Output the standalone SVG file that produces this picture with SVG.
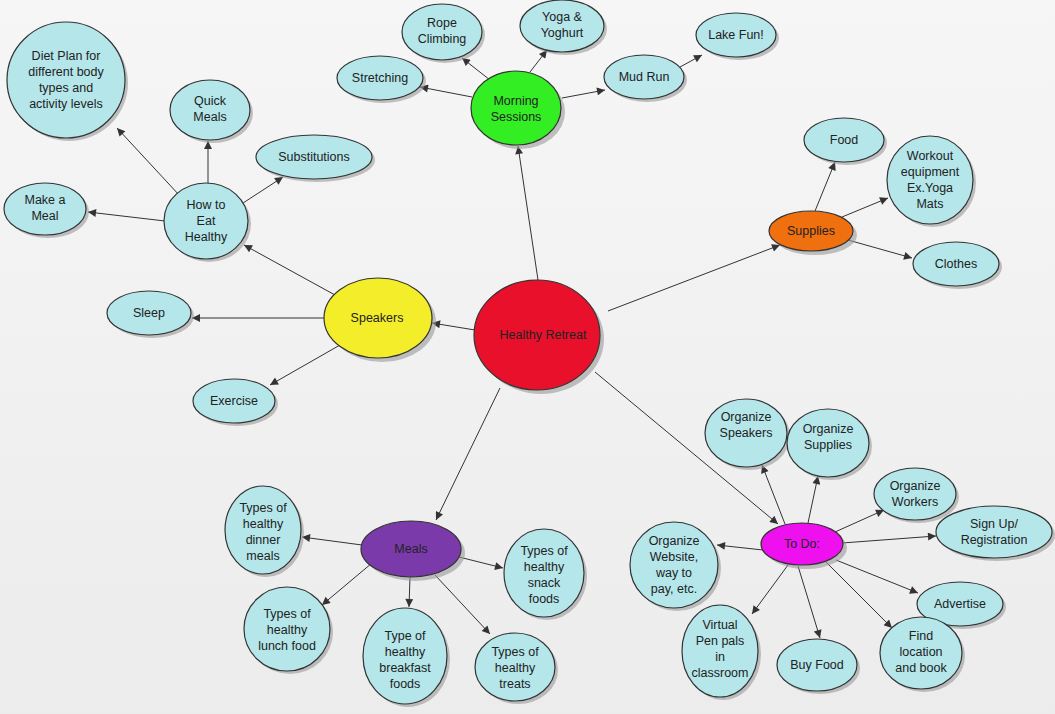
<svg xmlns="http://www.w3.org/2000/svg" width="1055" height="714" viewBox="0 0 1055 714">
<style>
text{font-family:"Liberation Sans",Arial,sans-serif;font-size:12.5px;fill:#222;text-anchor:middle}
.n ellipse.b{stroke:#333;stroke-width:1.2}
.c{fill:#b4e6ea}
.s{fill:#999;opacity:.6}
#connectors line{stroke:#333;stroke-width:1;marker-end:url(#a)}
</style>
<defs>
<marker id="a" viewBox="0 0 10 10" refX="10" refY="5" markerWidth="10" markerHeight="8" orient="auto" markerUnits="userSpaceOnUse"><path d="M0,0L10,5L0,10z" fill="#333"/></marker>
<linearGradient id="bg" x1="0" y1="0" x2="0" y2="1"><stop offset="0" stop-color="#f6f6f6"/><stop offset="1" stop-color="#ececec"/></linearGradient>
</defs>
<rect width="1055" height="714" fill="url(#bg)"/>
<g id="connectors">
<line x1="475" y1="330" x2="432" y2="323"/>
<line x1="538" y1="280" x2="518" y2="146"/>
<line x1="608" y1="311" x2="780" y2="245"/>
<line x1="500" y1="388" x2="436" y2="520"/>
<line x1="595" y1="372" x2="778" y2="524"/>
<line x1="335" y1="295" x2="244" y2="245"/>
<line x1="325" y1="318" x2="192" y2="318"/>
<line x1="340" y1="345" x2="270" y2="385"/>
<line x1="180" y1="196" x2="117" y2="128"/>
<line x1="208" y1="183" x2="208" y2="141"/>
<line x1="240" y1="205" x2="283" y2="177"/>
<line x1="165" y1="221" x2="88" y2="212"/>
<line x1="472" y1="97" x2="420" y2="87"/>
<line x1="490" y1="80" x2="462" y2="58"/>
<line x1="530" y1="72" x2="547" y2="50"/>
<line x1="562" y1="98" x2="605" y2="90"/>
<line x1="680" y1="67" x2="702" y2="55"/>
<line x1="815" y1="211" x2="835" y2="162"/>
<line x1="842" y1="217" x2="888" y2="198"/>
<line x1="848" y1="240" x2="912" y2="258"/>
<line x1="362" y1="545" x2="302" y2="537"/>
<line x1="455" y1="556" x2="503" y2="568"/>
<line x1="372" y1="563" x2="322" y2="605"/>
<line x1="410" y1="577" x2="409" y2="607"/>
<line x1="435" y1="575" x2="490" y2="634"/>
<line x1="785" y1="524" x2="762" y2="465"/>
<line x1="808" y1="523" x2="818" y2="476"/>
<line x1="835" y1="532" x2="884" y2="510"/>
<line x1="842" y1="543" x2="936" y2="536"/>
<line x1="763" y1="550" x2="717" y2="545"/>
<line x1="836" y1="560" x2="918" y2="593"/>
<line x1="788" y1="565" x2="752" y2="614"/>
<line x1="798" y1="566" x2="820" y2="638"/>
<line x1="826" y1="562" x2="892" y2="628"/>
</g>
<g id="healthy-retreat" class="n"><ellipse class="s" cx="541" cy="339" rx="63" ry="55"/><ellipse class="b" cx="537" cy="335" rx="63" ry="55" fill="#e8102a"/><text x="543" y="339">Healthy Retreat</text></g>
<g id="speakers" class="n"><ellipse class="s" cx="382" cy="322" rx="54" ry="40"/><ellipse class="b" cx="378" cy="318" rx="54" ry="40" fill="#f4ee2a"/><text x="377" y="322">Speakers</text></g>
<g id="morning" class="n"><ellipse class="s" cx="520" cy="112" rx="45" ry="37"/><ellipse class="b" cx="516" cy="108" rx="45" ry="37" fill="#33ee22"/><text x="516" y="105">Morning</text><text x="516" y="121">Sessions</text></g>
<g id="supplies" class="n"><ellipse class="s" cx="815" cy="235" rx="42" ry="20"/><ellipse class="b" cx="811" cy="231" rx="42" ry="20" fill="#f07010"/><text x="811" y="235">Supplies</text></g>
<g id="meals" class="n"><ellipse class="s" cx="415" cy="553" rx="50" ry="28"/><ellipse class="b" cx="411" cy="549" rx="50" ry="28" fill="#7a3aaa"/><text x="411" y="553">Meals</text></g>
<g id="todo" class="n"><ellipse class="s" cx="806" cy="548" rx="41" ry="21"/><ellipse class="b" cx="802" cy="544" rx="41" ry="21" fill="#ee10ee"/><text x="802" y="548">To Do:</text></g>
<g id="howto" class="n"><ellipse class="s" cx="209" cy="224" rx="42" ry="38"/><ellipse class="b c" cx="206" cy="221" rx="42" ry="38"/><text x="206" y="209">How to</text><text x="206" y="225">Eat</text><text x="206" y="241">Healthy</text></g>
<g id="diet" class="n"><ellipse class="s" cx="69" cy="83" rx="59" ry="58"/><ellipse class="b c" cx="66" cy="80" rx="59" ry="58"/><text x="66" y="60">Diet Plan for</text><text x="66" y="76">different body</text><text x="66" y="92">types and</text><text x="66" y="108">activity levels</text></g>
<g id="quick" class="n"><ellipse class="s" cx="213" cy="113" rx="40" ry="30"/><ellipse class="b c" cx="210" cy="110" rx="40" ry="30"/><text x="210" y="105">Quick</text><text x="210" y="121">Meals</text></g>
<g id="subst" class="n"><ellipse class="s" cx="317" cy="160" rx="58" ry="22"/><ellipse class="b c" cx="314" cy="157" rx="58" ry="22"/><text x="314" y="161">Substitutions</text></g>
<g id="make" class="n"><ellipse class="s" cx="48" cy="212" rx="41" ry="26"/><ellipse class="b c" cx="45" cy="209" rx="41" ry="26"/><text x="45" y="204">Make a</text><text x="45" y="220">Meal</text></g>
<g id="sleep" class="n"><ellipse class="s" cx="152" cy="316" rx="42" ry="22"/><ellipse class="b c" cx="149" cy="313" rx="42" ry="22"/><text x="149" y="317">Sleep</text></g>
<g id="exercise" class="n"><ellipse class="s" cx="237" cy="404" rx="41" ry="22"/><ellipse class="b c" cx="234" cy="401" rx="41" ry="22"/><text x="234" y="405">Exercise</text></g>
<g id="stretching" class="n"><ellipse class="s" cx="383" cy="81" rx="43" ry="22"/><ellipse class="b c" cx="380" cy="78" rx="43" ry="22"/><text x="380" y="82">Stretching</text></g>
<g id="rope" class="n"><ellipse class="s" cx="445" cy="35" rx="40" ry="28"/><ellipse class="b c" cx="442" cy="32" rx="40" ry="28"/><text x="442" y="27">Rope</text><text x="442" y="43">Climbing</text></g>
<g id="yoga" class="n"><ellipse class="s" cx="565" cy="29" rx="42" ry="26"/><ellipse class="b c" cx="562" cy="26" rx="42" ry="26"/><text x="562" y="21">Yoga &amp;</text><text x="562" y="37">Yoghurt</text></g>
<g id="mud" class="n"><ellipse class="s" cx="647" cy="80" rx="40" ry="22"/><ellipse class="b c" cx="644" cy="77" rx="40" ry="22"/><text x="644" y="81">Mud Run</text></g>
<g id="lake" class="n"><ellipse class="s" cx="739" cy="38" rx="40" ry="22"/><ellipse class="b c" cx="736" cy="35" rx="40" ry="22"/><text x="736" y="39">Lake Fun!</text></g>
<g id="food" class="n"><ellipse class="s" cx="847" cy="143" rx="40" ry="22"/><ellipse class="b c" cx="844" cy="140" rx="40" ry="22"/><text x="844" y="144">Food</text></g>
<g id="workout" class="n"><ellipse class="s" cx="933" cy="183" rx="43" ry="44"/><ellipse class="b c" cx="930" cy="180" rx="43" ry="44"/><text x="930" y="160">Workout</text><text x="930" y="176">equipment</text><text x="930" y="192">Ex.Yoga</text><text x="930" y="208">Mats</text></g>
<g id="clothes" class="n"><ellipse class="s" cx="959" cy="267" rx="43" ry="22"/><ellipse class="b c" cx="956" cy="264" rx="43" ry="22"/><text x="956" y="268">Clothes</text></g>
<g id="org-speakers" class="n"><ellipse class="s" cx="749" cy="436" rx="41" ry="34"/><ellipse class="b c" cx="746" cy="433" rx="41" ry="34"/><text x="746" y="421">Organize</text><text x="746" y="437">Speakers</text></g>
<g id="org-supplies" class="n"><ellipse class="s" cx="831" cy="446" rx="41" ry="34"/><ellipse class="b c" cx="828" cy="443" rx="41" ry="34"/><text x="828" y="433">Organize</text><text x="828" y="449">Supplies</text></g>
<g id="org-workers" class="n"><ellipse class="s" cx="918" cy="497" rx="41" ry="26"/><ellipse class="b c" cx="915" cy="494" rx="41" ry="26"/><text x="915" y="490">Organize</text><text x="915" y="506">Workers</text></g>
<g id="signup" class="n"><ellipse class="s" cx="997" cy="535" rx="58" ry="26"/><ellipse class="b c" cx="994" cy="532" rx="58" ry="26"/><text x="994" y="528">Sign Up/</text><text x="994" y="544">Registration</text></g>
<g id="website" class="n"><ellipse class="s" cx="677" cy="568" rx="44" ry="43"/><ellipse class="b c" cx="674" cy="565" rx="44" ry="43"/><text x="674" y="545">Organize</text><text x="674" y="561">Website,</text><text x="674" y="577">way to</text><text x="674" y="593">pay, etc.</text></g>
<g id="advertise" class="n"><ellipse class="s" cx="963" cy="607" rx="43" ry="22"/><ellipse class="b c" cx="960" cy="604" rx="43" ry="22"/><text x="960" y="608">Advertise</text></g>
<g id="virtual" class="n"><ellipse class="s" cx="723" cy="654" rx="38" ry="46"/><ellipse class="b c" cx="720" cy="651" rx="38" ry="46"/><text x="720" y="629">Virtual</text><text x="720" y="645">Pen pals</text><text x="720" y="661">in</text><text x="720" y="677">classroom</text></g>
<g id="buyfood" class="n"><ellipse class="s" cx="820" cy="668" rx="40" ry="26"/><ellipse class="b c" cx="817" cy="665" rx="40" ry="26"/><text x="817" y="669">Buy Food</text></g>
<g id="find" class="n"><ellipse class="s" cx="924" cy="656" rx="41" ry="36"/><ellipse class="b c" cx="921" cy="653" rx="41" ry="36"/><text x="921" y="640">Find</text><text x="921" y="656">location</text><text x="921" y="672">and book</text></g>
<g id="dinner" class="n"><ellipse class="s" cx="266" cy="533" rx="38" ry="44"/><ellipse class="b c" cx="263" cy="530" rx="38" ry="44"/><text x="263" y="512">Types of</text><text x="263" y="528">healthy</text><text x="263" y="544">dinner</text><text x="263" y="560">meals</text></g>
<g id="snack" class="n"><ellipse class="s" cx="547" cy="576" rx="40" ry="44"/><ellipse class="b c" cx="544" cy="573" rx="40" ry="44"/><text x="544" y="555">Types of</text><text x="544" y="571">healthy</text><text x="544" y="587">snack</text><text x="544" y="603">foods</text></g>
<g id="lunch" class="n"><ellipse class="s" cx="290" cy="632" rx="43" ry="42"/><ellipse class="b c" cx="287" cy="629" rx="43" ry="42"/><text x="287" y="618">Types of</text><text x="287" y="634">healthy</text><text x="287" y="650">lunch food</text></g>
<g id="breakfast" class="n"><ellipse class="s" cx="408" cy="659" rx="42" ry="48"/><ellipse class="b c" cx="405" cy="656" rx="42" ry="48"/><text x="405" y="640">Type of</text><text x="405" y="656">healthy</text><text x="405" y="672">breakfast</text><text x="405" y="688">foods</text></g>
<g id="treats" class="n"><ellipse class="s" cx="518" cy="670" rx="40" ry="34"/><ellipse class="b c" cx="515" cy="667" rx="40" ry="34"/><text x="515" y="656">Types of</text><text x="515" y="672">healthy</text><text x="515" y="688">treats</text></g>
</svg>
